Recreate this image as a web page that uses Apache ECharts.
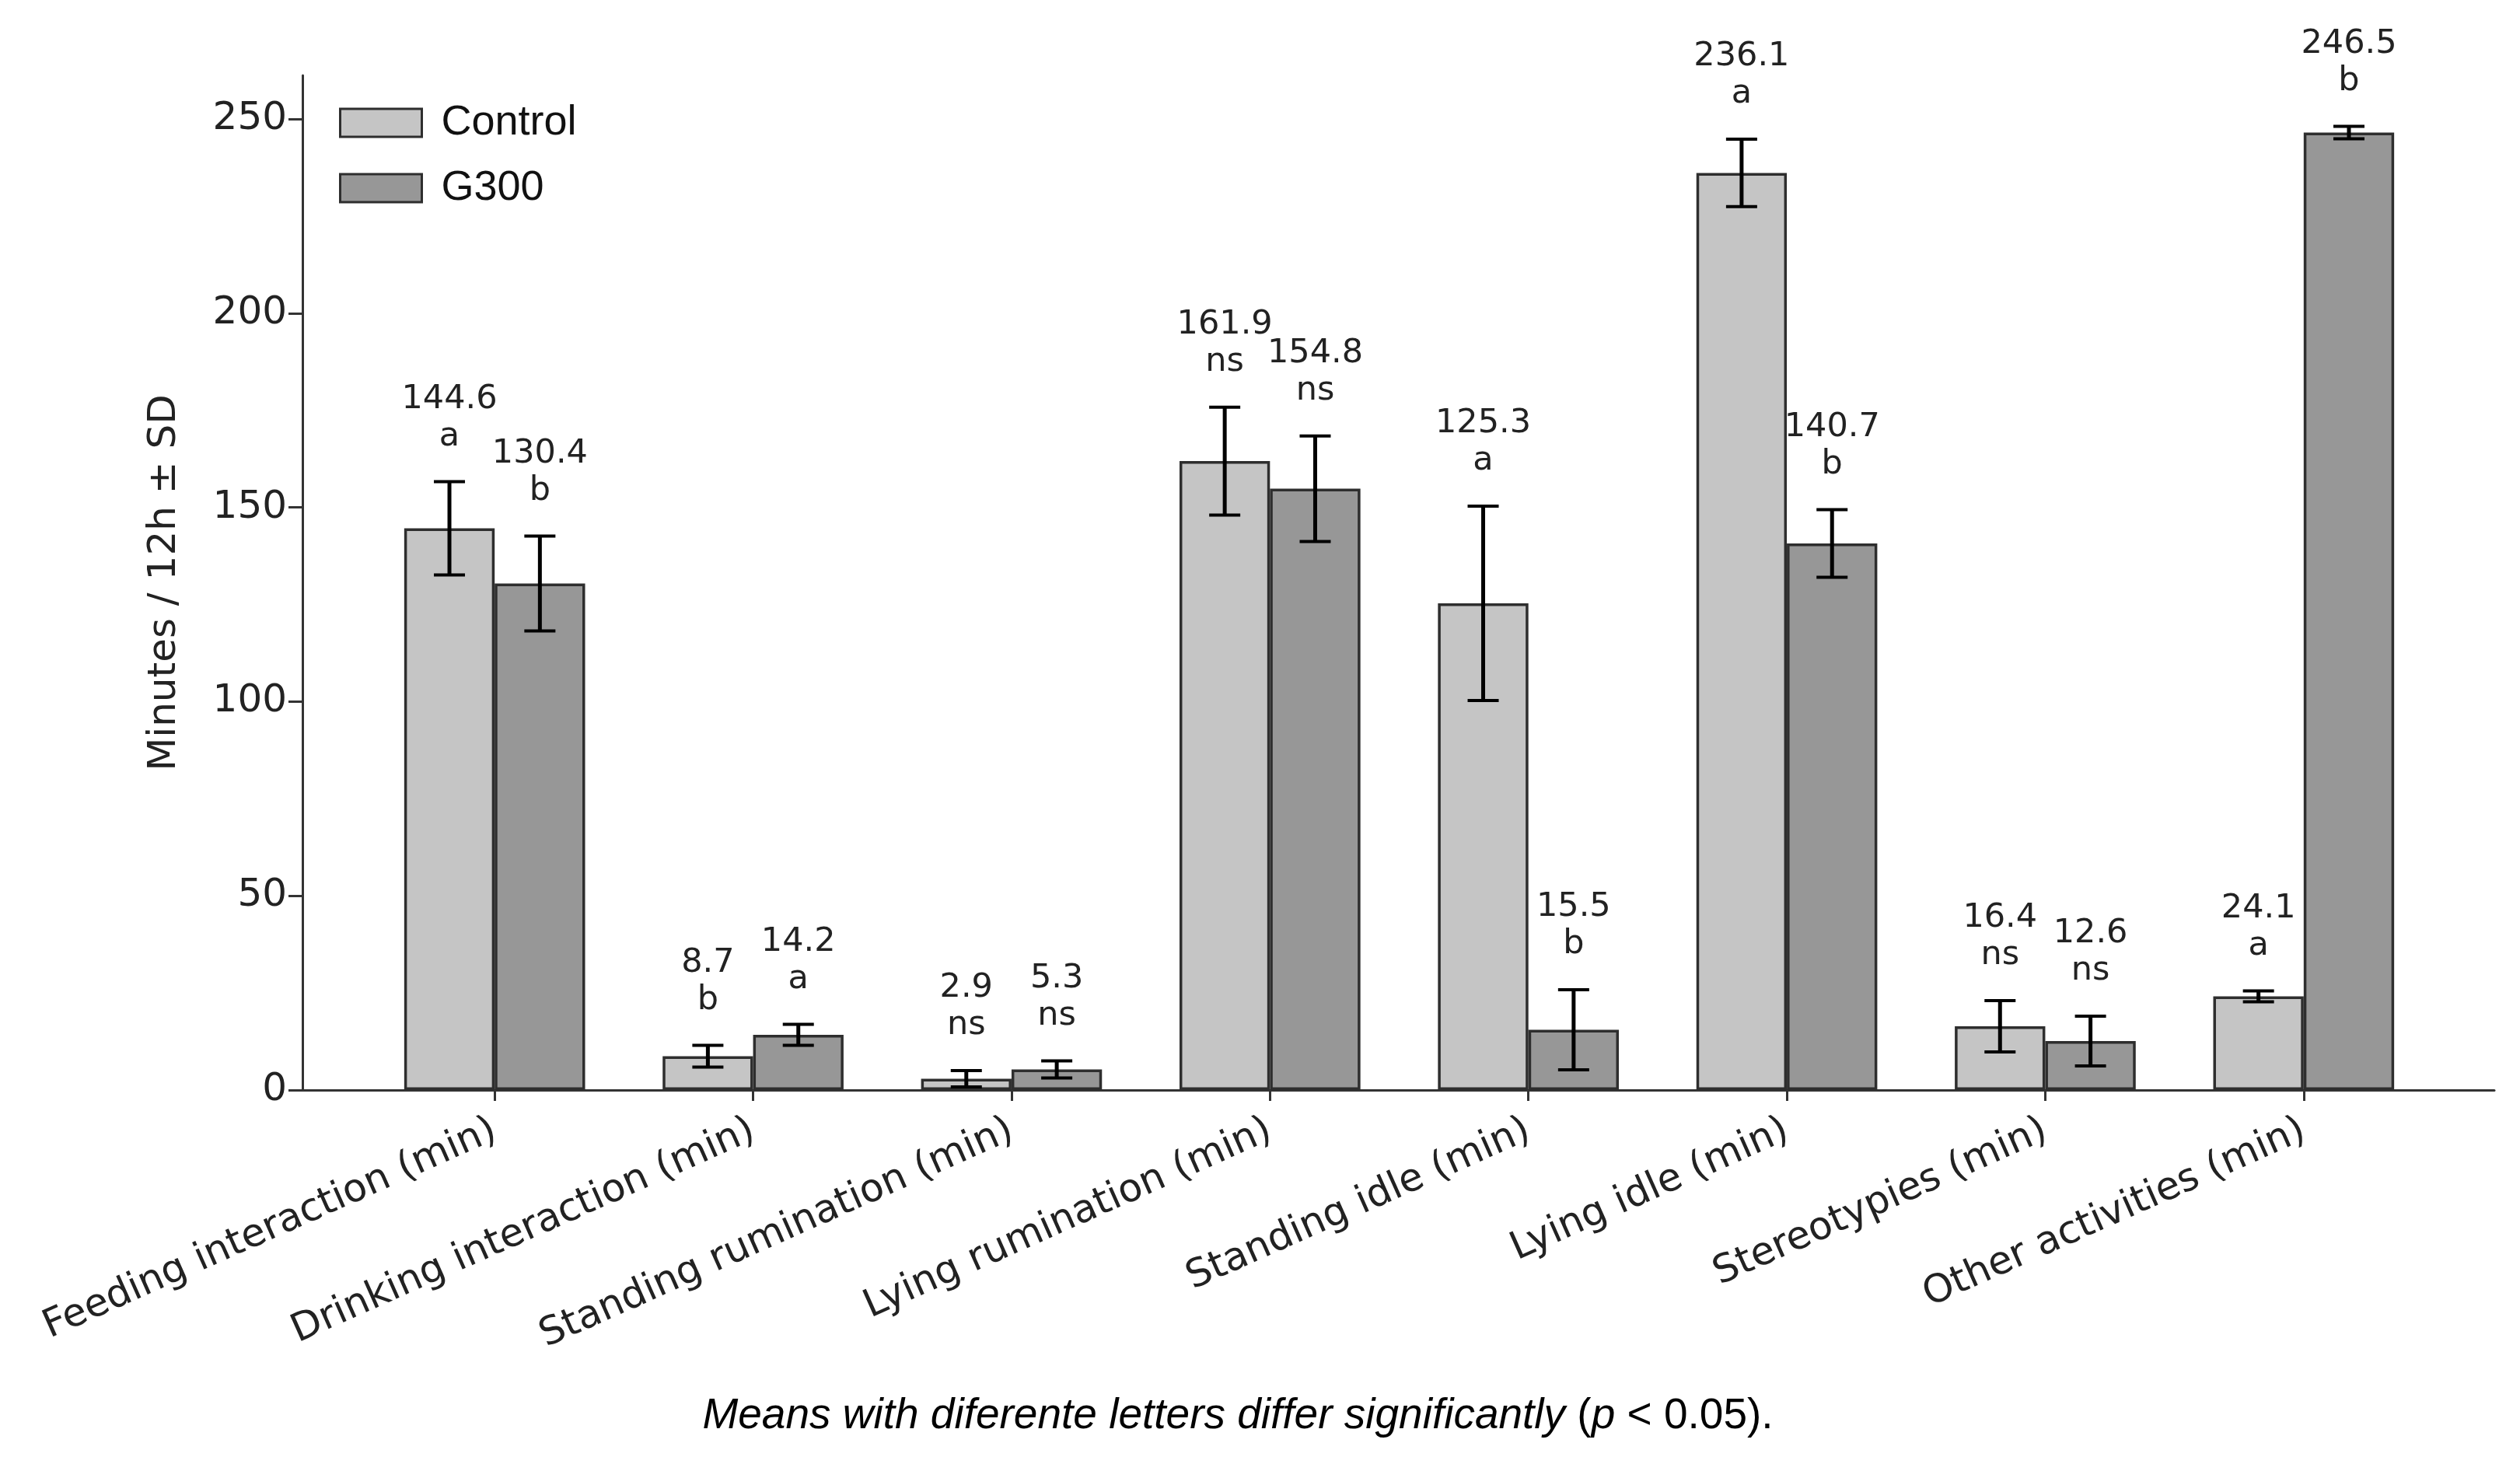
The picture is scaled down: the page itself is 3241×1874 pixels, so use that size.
<!DOCTYPE html>
<html>
<head>
<meta charset="utf-8">
<script src="https://cdn.jsdelivr.net/npm/echarts@6/dist/echarts.min.js"></script>
<style>
  html, body { margin: 0; padding: 0; background: #fff; }
  #chart { width: 3241px; height: 1874px; }
</style>
</head>
<body>
<div id="chart"></div>
<script>
// data
const categories = ['Feeding interaction (min)', 'Drinking interaction (min)', 'Standing rumination (min)',
  'Lying rumination (min)', 'Standing idle (min)', 'Lying idle (min)', 'Stereotypies (min)', 'Other activities (min)'];
const controlMean = [144.6, 8.7, 2.9, 161.9, 125.3, 236.1, 16.4, 24.1];
const controlSD = [12.0, 2.8, 2.1, 13.9, 25.0, 8.7, 6.6, 1.4];
const controlLetter = ['a', 'b', 'ns', 'ns', 'a', 'a', 'ns', 'a'];
const g300Mean = [130.4, 14.2, 5.3, 154.8, 15.5, 140.7, 12.6, 246.5];
const g300SD = [12.2, 2.7, 2.2, 13.6, 10.3, 8.7, 6.4, 1.6];
const g300Letter = ['b', 'a', 'ns', 'ns', 'b', 'b', 'ns', 'b'];
const yTicks = [0, 50, 100, 150, 200, 250];
const yMax = 261.2;

const myChart = echarts.init(document.getElementById('chart'));
const edge = '#2e2e2e';
const textCol = '#222';

// error bars + mean/letter labels, side -1 = left bar, +1 = right bar
function errRender(side, means, letters) {
  return function (params, api) {
    const i = api.value(0), m = api.value(1), sd = api.value(2);
    const band = api.size([1, 0])[0];
    const x = api.coord([i, m])[0] + side * band * 0.175;
    const yTop = api.coord([i, m + sd])[1];
    const yBot = api.coord([i, m - sd])[1];
    const cap = 20;
    return {
      type: 'group',
      children: [
        { type: 'line', shape: { x1: x, y1: yTop, x2: x, y2: yBot }, style: { stroke: '#000', lineWidth: 5 } },
        { type: 'line', shape: { x1: x - cap, y1: yTop, x2: x + cap, y2: yTop }, style: { stroke: '#000', lineWidth: 4 } },
        { type: 'line', shape: { x1: x - cap, y1: yBot, x2: x + cap, y2: yBot }, style: { stroke: '#000', lineWidth: 4 } },
        {
          type: 'text',
          style: {
            x: x, y: yTop - 34,
            text: means[params.dataIndex].toFixed(1) + '\n' + letters[params.dataIndex],
            align: 'center', verticalAlign: 'bottom',
            fontFamily: 'DejaVu Sans', fontSize: 43, lineHeight: 48, fill: textCol
          }
        }
      ]
    };
  };
}

const ctrlErr = controlMean.map((v, i) => [i, v, controlSD[i]]);
const g300Err = g300Mean.map((v, i) => [i, v, g300SD[i]]);

const option = {
  backgroundColor: '#fff',
  animation: false,
  grid: [
    // frame with the y axis and the long x axis line
    { left: 389, right: 33, top: 97, bottom: 472 },
    // bars, one band per category
    { left: 470, right: 112, top: 97, bottom: 472 }
  ],
  legend: {
    orient: 'vertical',
    left: 431, top: 126,
    itemWidth: 105, itemHeight: 36, itemGap: 30,
    icon: 'rect',
    data: ['Control', 'G300'],
    itemStyle: { borderColor: edge, borderWidth: 3 },
    textStyle: { fontFamily: 'Liberation Sans', fontSize: 54, color: '#111', padding: [0, 0, 0, 20] }
  },
  xAxis: [
    {
      gridIndex: 0, type: 'value', min: 0, max: 1,
      axisLine: { show: true, lineStyle: { color: '#333', width: 3 } },
      axisTick: { show: false }, axisLabel: { show: false }, splitLine: { show: false }
    },
    {
      gridIndex: 1, type: 'category', data: categories,
      axisLine: { show: false },
      axisTick: { show: true, alignWithLabel: true, length: 14, lineStyle: { color: '#333', width: 3 } },
      axisLabel: {
        interval: 0, rotate: 24, margin: 50,
        fontFamily: 'DejaVu Sans', fontSize: 50, color: textCol
      },
      splitLine: { show: false }
    }
  ],
  yAxis: [
    {
      gridIndex: 0, type: 'value', min: 0, max: yMax,
      name: 'Minutes / 12h ± SD', nameLocation: 'middle', nameGap: 152,
      nameTextStyle: { fontFamily: 'DejaVu Sans', fontSize: 50, color: textCol },
      axisLine: { show: true, lineStyle: { color: '#333', width: 3 } },
      axisTick: { show: true, length: 18, customValues: yTicks, lineStyle: { color: '#333', width: 3 } },
      axisLabel: { customValues: yTicks, margin: 20, fontFamily: 'DejaVu Sans', fontSize: 50, color: '#222' },
      splitLine: { show: false }
    },
    {
      gridIndex: 1, type: 'value', min: 0, max: yMax, show: false,
      splitLine: { show: false }
    }
  ],
  series: [
    {
      name: 'Control', type: 'bar', xAxisIndex: 1, yAxisIndex: 1,
      data: controlMean, barWidth: '35%', barGap: '0%',
      itemStyle: { color: '#c5c5c5', borderColor: edge, borderWidth: 3.5 }
    },
    {
      name: 'G300', type: 'bar', xAxisIndex: 1, yAxisIndex: 1,
      data: g300Mean, barWidth: '35%', barGap: '0%',
      itemStyle: { color: '#979797', borderColor: edge, borderWidth: 3.5 }
    },
    {
      type: 'custom', xAxisIndex: 1, yAxisIndex: 1, z: 5, clip: false,
      renderItem: errRender(-1, controlMean, controlLetter),
      data: ctrlErr
    },
    {
      type: 'custom', xAxisIndex: 1, yAxisIndex: 1, z: 5, clip: false,
      renderItem: errRender(1, g300Mean, g300Letter),
      data: g300Err
    }
  ],
  graphic: [
    {
      type: 'text',
      style: {
        x: 1592, y: 1822,
        align: 'center', verticalAlign: 'middle',
        text: '{i|Means with diferente letters differ significantly }{n|(}{i|p}{n| < 0.05).}',
        rich: {
          i: { fontFamily: 'Liberation Sans', fontStyle: 'italic', fontSize: 55, fill: '#000' },
          n: { fontFamily: 'Liberation Sans', fontSize: 55, fill: '#000' }
        }
      }
    }
  ]
};

if (option && typeof option === 'object') {
  myChart.setOption(option);
}
</script>
</body>
</html>
